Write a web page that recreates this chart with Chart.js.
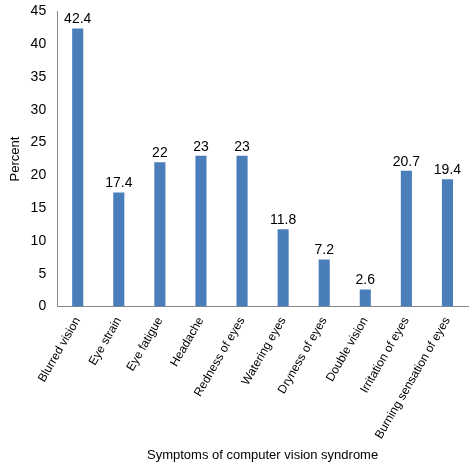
<!DOCTYPE html>
<html><head><meta charset="utf-8">
<script src="https://cdn.jsdelivr.net/npm/chart.js@4"></script>
<style>html,body{margin:0;padding:0;background:#fff}#w{width:474px;height:473px}</style>
</head><body><div id="w"><canvas id="c"></canvas></div>
<script>
const categories=["Blurred vision","Eye strain","Eye fatigue","Headache","Redness of eyes","Watering eyes","Dryness of eyes","Double vision","Irritation of eyes","Burning sensation of eyes"];
const values=[42.4,17.4,22,23,23,11.8,7.2,2.6,20.7,19.4];
const yTicks=[0,5,10,15,20,25,30,35,40,45];
const labelsPlugin={id:'lbl',afterDatasetsDraw(ch){const ctx=ch.ctx;const m=ch.getDatasetMeta(0);ctx.save();ctx.font='14px Arial, "Liberation Sans"';ctx.fillStyle='#000';ctx.textAlign='center';ctx.textBaseline='bottom';m.data.forEach((b,i)=>ctx.fillText(String(values[i]),b.x,b.y-2));ctx.restore();}};
new Chart(document.getElementById('c'),{type:'bar',data:{labels:categories,datasets:[{data:values,backgroundColor:'#4a7ebb',barPercentage:0.27,categoryPercentage:1}]},
options:{responsive:true,maintainAspectRatio:false,animation:false,layout:{padding:{top:6,right:6,left:4,bottom:6}},plugins:{legend:{display:false},tooltip:{enabled:false}},
scales:{x:{grid:{display:false},border:{color:'#888'},ticks:{color:'#000',font:{size:12,family:'Arial, "Liberation Sans"'},maxRotation:60,minRotation:60,padding:0},title:{display:true,text:'Symptoms of computer vision syndrome',color:'#000',font:{size:13,family:'Arial, "Liberation Sans"'},padding:{top:6}}},
y:{min:0,max:45,afterBuildTicks(a){a.ticks=yTicks.map(v=>({value:v}));},grid:{display:false},border:{color:'#888'},ticks:{color:'#000',font:{size:14,family:'Arial, "Liberation Sans"'}},title:{display:true,text:'Percent',color:'#000',font:{size:13,family:'Arial, "Liberation Sans"'}}}}},plugins:[labelsPlugin]});
</script></body></html>
